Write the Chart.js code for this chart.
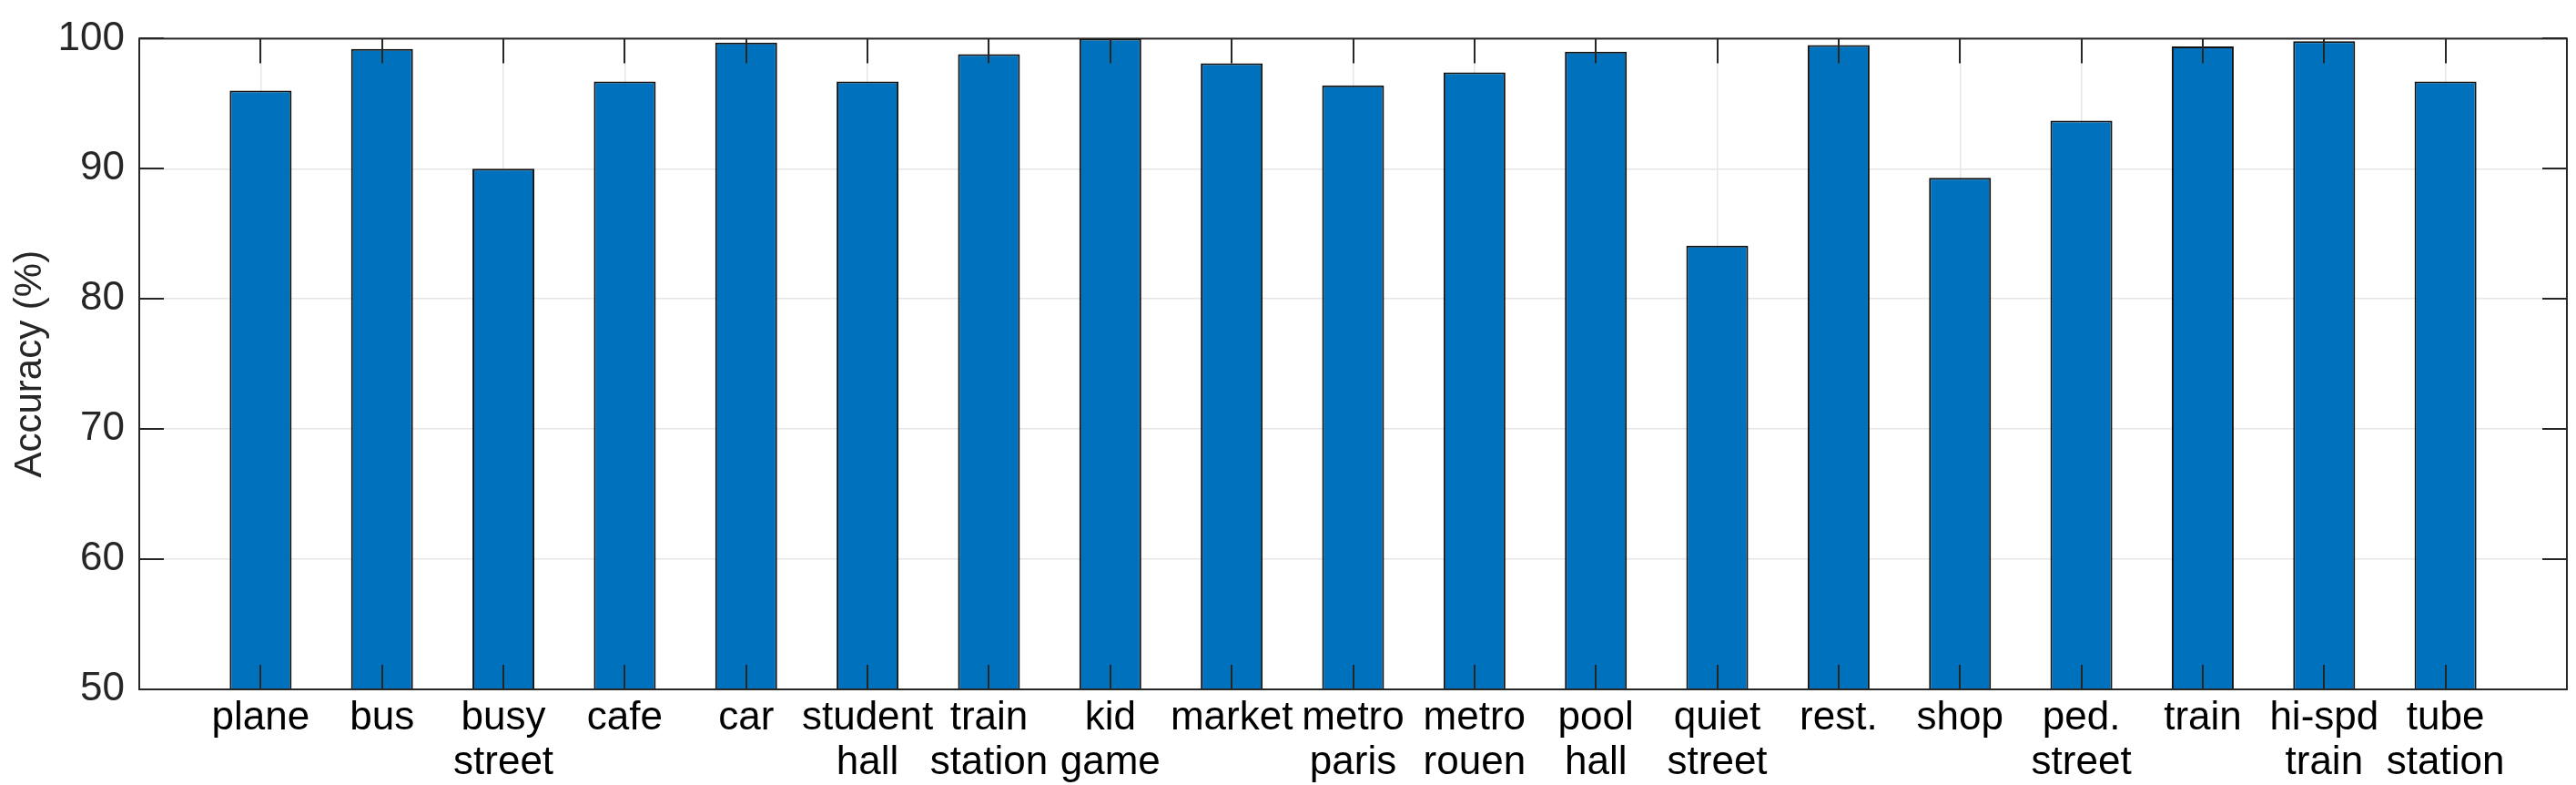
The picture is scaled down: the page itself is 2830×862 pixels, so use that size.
<!DOCTYPE html>
<html>
<head>
<meta charset="utf-8">
<script src="https://cdn.jsdelivr.net/npm/chart.js@4/dist/chart.umd.min.js"></script>
<style>
html,body{margin:0;padding:0;background:#fff;}
#wrap{width:2830px;height:862px;position:relative;}
</style>
</head>
<body>
<div id="wrap"><canvas id="c" width="2830" height="862"></canvas></div>
<script>
// ---- data ----
const categories = [
  ["plane"], ["bus"], ["busy","street"], ["cafe"], ["car"], ["student","hall"],
  ["train","station"], ["kid","game"], ["market"], ["metro","paris"], ["metro","rouen"],
  ["pool","hall"], ["quiet","street"], ["rest."], ["shop"], ["ped.","street"],
  ["train"], ["hi-spd","train"], ["tube","station"]
];
const accuracy = [96.0, 99.2, 90.0, 96.7, 99.7, 96.7, 98.8, 100.0, 98.1, 96.4, 97.4,
                  99.0, 84.1, 99.5, 89.3, 93.7, 99.4, 99.8, 96.7];
const yTicks = [50, 60, 70, 80, 90, 100];
const yTitle = "Accuracy (%)";

// padded with empty slots at both ends (axis spans 0..20)
const labels = [""].concat(categories, [""]);
const values = [null].concat(accuracy, [null]);

const AXIS = "#262626";
const TICKLEN = 27;

const boxPlugin = {
  id: 'matlabBox',
  afterDatasetsDraw(chart) {
    const ctx = chart.ctx, a = chart.chartArea;
    const xs = chart.scales.x, ys = chart.scales.y;
    ctx.save();
    ctx.strokeStyle = AXIS;
    ctx.lineWidth = 2;
    ctx.beginPath();
    for (let i = 1; i < labels.length - 1; i++) {
      const px = Math.round(xs.getPixelForTick(i));
      ctx.moveTo(px, a.bottom); ctx.lineTo(px, a.bottom - TICKLEN);
      ctx.moveTo(px, a.top); ctx.lineTo(px, a.top + TICKLEN);
    }
    yTicks.forEach(v => {
      const py = Math.round(ys.getPixelForValue(v));
      ctx.moveTo(a.left, py); ctx.lineTo(a.left + TICKLEN, py);
      ctx.moveTo(a.right, py); ctx.lineTo(a.right - TICKLEN, py);
    });
    ctx.stroke();
    ctx.strokeRect(a.left, a.top, a.right - a.left, a.bottom - a.top);
    ctx.restore();
  }
};

new Chart(document.getElementById('c'), {
  type: 'bar',
  data: {
    labels: labels,
    datasets: [{
      data: values,
      backgroundColor: '#0072BD',
      borderColor: '#111111',
      borderWidth: 2,
      borderSkipped: false,
      barPercentage: 0.51,
      categoryPercentage: 1.0
    }]
  },
  options: {
    responsive: false,
    animation: false,
    devicePixelRatio: 1,
    layout: { padding: { top: 23, right: 10, left: 0, bottom: 0 } },
    plugins: { legend: { display: false }, tooltip: { enabled: false } },
    scales: {
      x: {
        type: 'category',
        offset: false,
        grid: { color: '#e6e6e6', lineWidth: 1.5, drawTicks: false, offset: false },
        border: { display: false },
        ticks: {
          color: '#000',
          font: { family: 'Liberation Sans, Arial, sans-serif', size: 44, lineHeight: 1.1 },
          padding: 8,
          maxRotation: 0, minRotation: 0, autoSkip: false
        },
        afterFit(scale) { scale.height = 105; }
      },
      y: {
        min: 50, max: 100,
        grid: { color: '#e6e6e6', lineWidth: 1.5, drawTicks: false },
        border: { display: false },
        ticks: {
          stepSize: 10,
          color: '#262626',
          font: { family: 'Liberation Sans, Arial, sans-serif', size: 44 },
          padding: 16
        },
        title: {
          display: true, text: yTitle, color: '#262626',
          font: { family: 'Liberation Sans, Arial, sans-serif', size: 42 },
          padding: { top: 8, bottom: 0 }
        },
        afterFit(scale) { scale.width = 153; }
      }
    }
  },
  plugins: [boxPlugin]
});
</script>
</body>
</html>
